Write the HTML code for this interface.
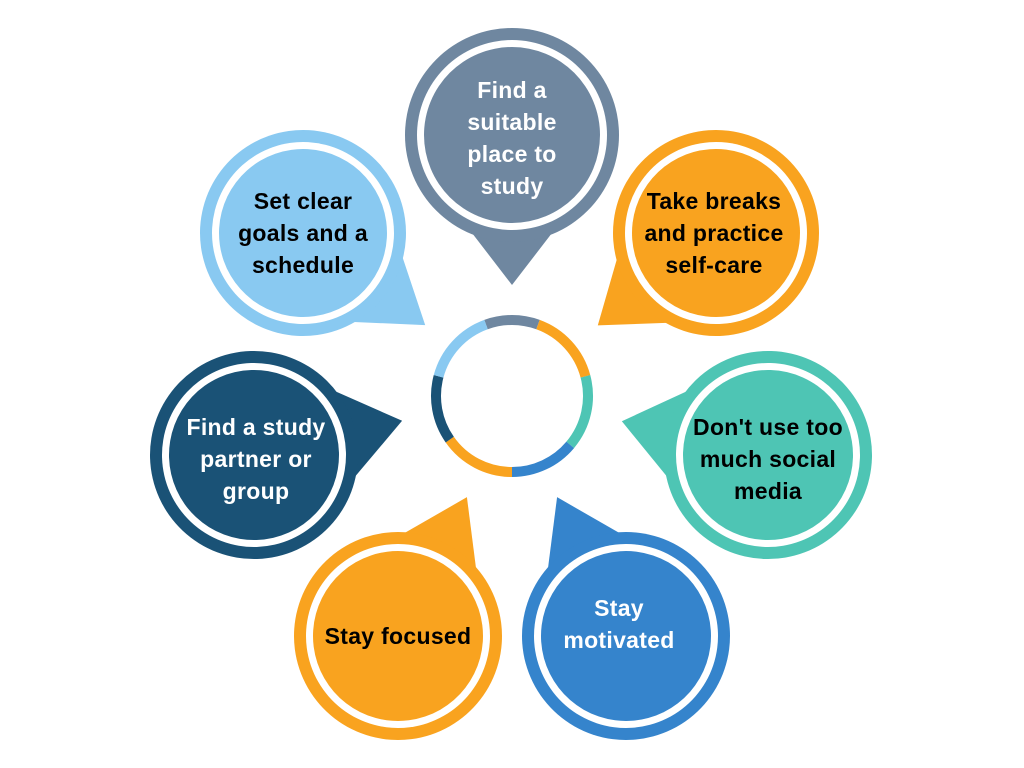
<!DOCTYPE html>
<html><head><meta charset="utf-8"><style>
html,body{margin:0;padding:0;background:#fff;}
#w{position:relative;width:1024px;height:768px;overflow:hidden;}
svg{position:absolute;left:0;top:0;}
.t{position:absolute;width:200px;text-align:center;font-family:"Liberation Sans",sans-serif;font-weight:bold;font-size:23px;letter-spacing:0.3px;line-height:32px;}
</style></head><body><div id="w">
<svg width="1024" height="768" viewBox="0 0 1024 768">
<g fill="none" stroke-width="10">
<circle cx="512" cy="396" r="76" stroke="#6f87a0" stroke-dasharray="53.06 1000" transform="rotate(-110 512 396)"/>
<circle cx="512" cy="396" r="76" stroke="#f9a31f" stroke-dasharray="72.95 1000" transform="rotate(-70 512 396)"/>
<circle cx="512" cy="396" r="76" stroke="#4ec5b4" stroke-dasharray="72.95 1000" transform="rotate(-15 512 396)"/>
<circle cx="512" cy="396" r="76" stroke="#3584cc" stroke-dasharray="66.3 1000" transform="rotate(40 512 396)"/>
<circle cx="512" cy="396" r="76" stroke="#f9a31f" stroke-dasharray="72.95 1000" transform="rotate(90 512 396)"/>
<circle cx="512" cy="396" r="76" stroke="#1a5276" stroke-dasharray="66.3 1000" transform="rotate(145 512 396)"/>
<circle cx="512" cy="396" r="76" stroke="#89c9f1" stroke-dasharray="72.95 1000" transform="rotate(195 512 396)"/>
</g>
<g transform="translate(512 135) rotate(90)" fill="#6f87a0">
<polygon points="98,-40 98,40 150,0"/><circle r="107"/><circle r="95" fill="#fff"/><circle r="88"/></g>
<g transform="translate(303 233) rotate(37)" fill="#89c9f1">
<polygon points="92,-42 92,42 153,0"/><circle r="103"/><circle r="91" fill="#fff"/><circle r="84"/></g>
<g transform="translate(716 233) rotate(142)" fill="#f9a31f">
<polygon points="92,-42 92,42 150,0"/><circle r="103"/><circle r="91" fill="#fff"/><circle r="84"/></g>
<g transform="translate(254 455) rotate(-13)" fill="#1a5276">
<polygon points="92,-45 92,45 152,0"/><circle r="104"/><circle r="92" fill="#fff"/><circle r="85"/></g>
<g transform="translate(768 455) rotate(193)" fill="#4ec5b4">
<polygon points="92,-45 92,45 150,0"/><circle r="104"/><circle r="92" fill="#fff"/><circle r="85"/></g>
<g transform="translate(398 636) rotate(-63.6)" fill="#f9a31f">
<polygon points="92,-42 92,42 155,0"/><circle r="104"/><circle r="92" fill="#fff"/><circle r="85"/></g>
<g transform="translate(626 636) rotate(243.6)" fill="#3584cc">
<polygon points="92,-42 92,42 155,0"/><circle r="104"/><circle r="92" fill="#fff"/><circle r="85"/></g>
</svg>
<div class="t" style="left:412px;top:74px;color:#fff">Find a<br>suitable<br>place to<br>study</div>
<div class="t" style="left:203px;top:185px;color:#000">Set clear<br>goals and a<br>schedule</div>
<div class="t" style="left:614px;top:185px;color:#000">Take breaks<br>and practice<br>self-care</div>
<div class="t" style="left:156px;top:411px;color:#fff">Find a study<br>partner or<br>group</div>
<div class="t" style="left:668px;top:411px;color:#000">Don't use too<br>much social<br>media</div>
<div class="t" style="left:298px;top:620px;color:#000">Stay focused</div>
<div class="t" style="left:519px;top:592px;color:#fff">Stay<br>motivated</div>
</div></body></html>
